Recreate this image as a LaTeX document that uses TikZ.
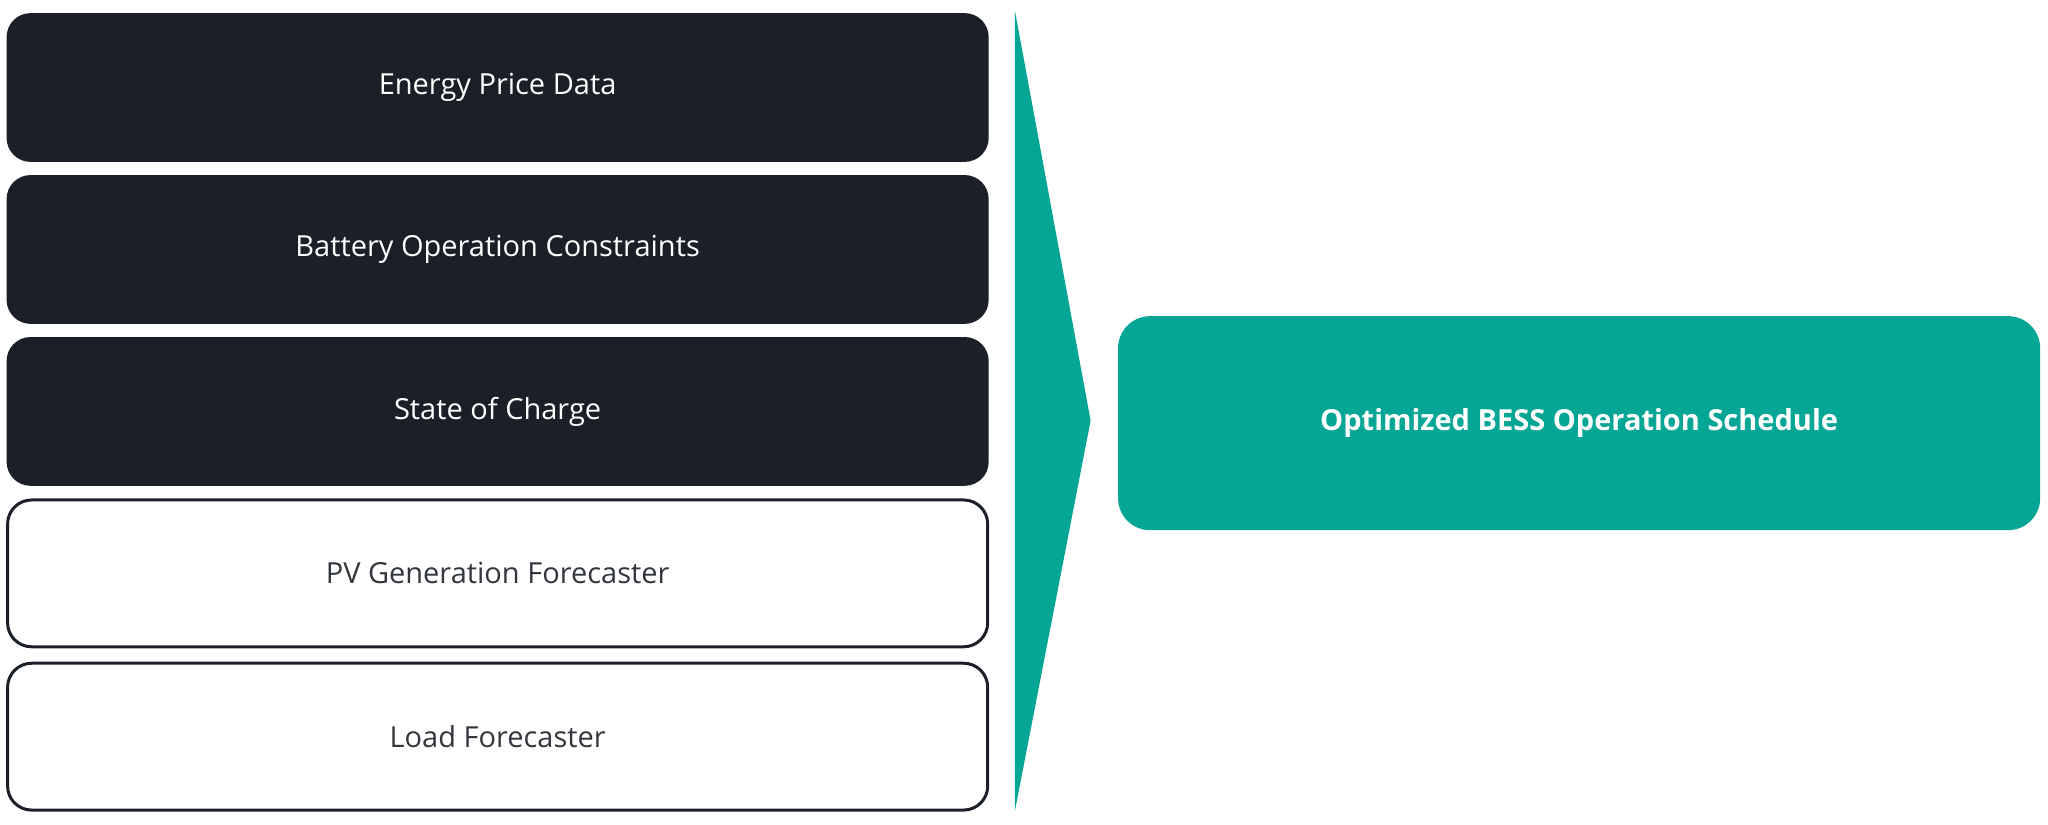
\documentclass[tikz,border=0pt]{standalone}
\usepackage{fontspec}
\setmainfont{Open Sans}
\definecolor{dark}{HTML}{1B2028}
\definecolor{teal}{HTML}{05A696}
\begin{document}
\begin{tikzpicture}[x=0.653pt,y=-0.653pt,
 box/.style={rounded corners=12pt,minimum width=491pt,minimum height=74.4pt,inner sep=0pt,font=\fontsize{14.5}{16}\selectfont},
 darkbox/.style={box,fill=dark,text=white},
 lightbox/.style={box,draw=dark,line width=1.5pt,fill=white,text=dark!90,minimum width=490pt,minimum height=73.4pt}]
\useasboundingbox (0,0) rectangle (1568,631);
\node[darkbox] (a) at (381,67) {Energy Price Data};
\node[darkbox] (b) at (381,191) {Battery Operation Constraints};
\node[darkbox] (c) at (381,315) {State of Charge};
\node[lightbox] (d) at (381,439) {PV Generation Forecaster};
\node[lightbox] (e) at (381,564) {Load Forecaster};
\coordinate (t1) at (777,8);
\coordinate (t2) at (835,322);
\coordinate (t3) at (777,621);
\fill[teal] (t1) -- (t2) -- (t3) -- cycle;
\node[box,fill=teal,rounded corners=16pt,minimum width=461pt,minimum height=107pt,text=white,font=\fontsize{14.5}{16}\selectfont\bfseries] (out) at (1209,324) {Optimized BESS Operation Schedule};
\end{tikzpicture}
\end{document}
